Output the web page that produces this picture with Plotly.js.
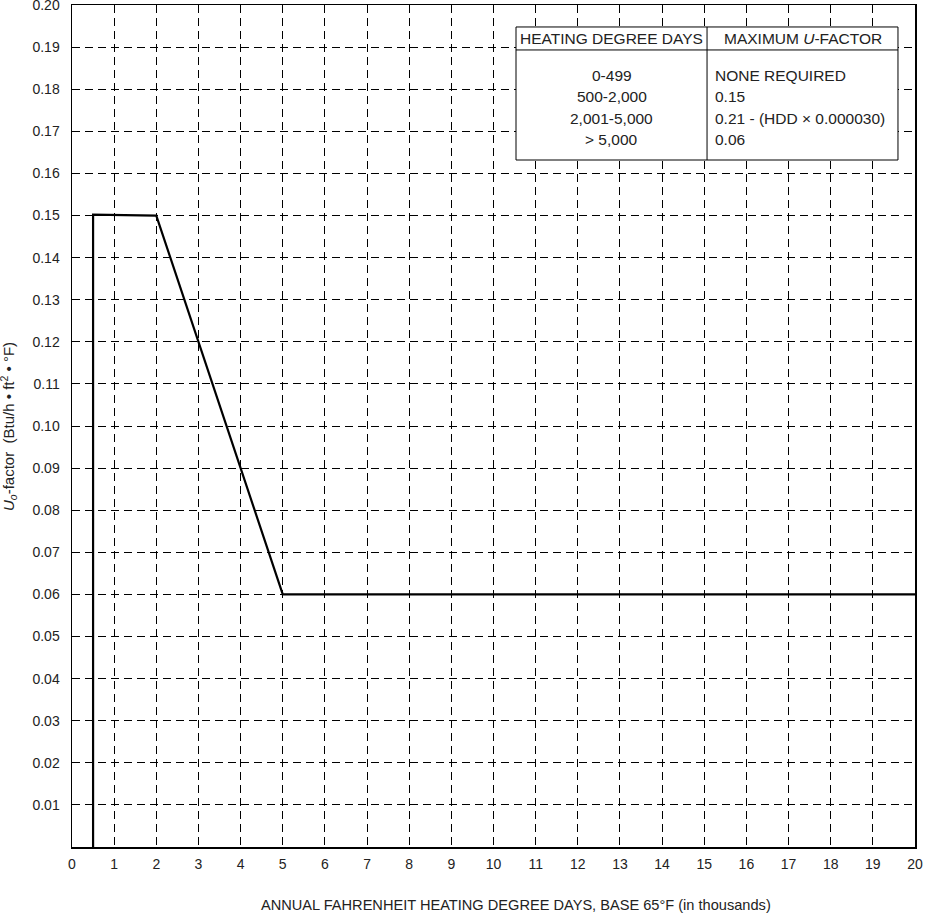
<!DOCTYPE html>
<html>
<head>
<meta charset="utf-8">
<script src="https://cdn.plot.ly/plotly-3.0.1.min.js"></script>
<style>html,body{margin:0;padding:0;background:#fff;}#chart{width:925px;height:914px;}</style>
</head>
<body>
<div id="chart"></div>
<script>
// Curve vertices (HDD in thousands, maximum U-factor)
const hddThousands = [0.5, 0.5, 2, 5, 20];
const uFactor = [0, 0.1502, 0.15, 0.06, 0.06];

// Axis ticks
const xTicks = [0,1,2,3,4,5,6,7,8,9,10,11,12,13,14,15,16,17,18,19,20];
const yTicks = [0.01,0.02,0.03,0.04,0.05,0.06,0.07,0.08,0.09,0.10,0.11,0.12,0.13,0.14,0.15,0.16,0.17,0.18,0.19,0.20];
const yTickText = yTicks.map(v => v.toFixed(2));

// Axis titles
const xTitle = 'ANNUAL FAHRENHEIT HEATING DEGREE DAYS, BASE 65°F (in thousands)';
const yTitle = '<i>U</i><sub><i>o</i></sub>-factor  (Btu/h • ft<sup>2</sup> • °F)';

// Table content
const tableHeaders = ["HEATING DEGREE DAYS", "MAXIMUM <i>U</i>-FACTOR"];
const hddRanges = ["0-499", "500-2,000", "2,001-5,000", "&gt; 5,000"];
const maxU = ["NONE REQUIRED", "0.15", "0.21 - (HDD × 0.000030)", "0.06"];

const FONT = "Liberation Sans, Arial, Helvetica, sans-serif";

// Table geometry (paper coordinates)
const tL = 0.5267, tR = 0.9798, tT = 0.9739, tB = 0.8159, tH = 0.9466, tC = 0.7533;
const rowY0 = 0.9131 + 3/842, rowStep = 21.5 / 842;

const shapes = [
  {type:'rect', xref:'paper', yref:'paper', x0:tL, x1:tR, y0:tB, y1:tT, fillcolor:'#fff', line:{color:'#000', width:1}, layer:'above'},
  {type:'line', xref:'paper', yref:'paper', x0:tL, x1:tR, y0:tH, y1:tH, line:{color:'#000', width:1}},
  {type:'line', xref:'paper', yref:'paper', x0:tC, x1:tC, y0:tB, y1:tT, line:{color:'#000', width:1}}
];

const annotations = [];
annotations.push({xref:'paper', yref:'paper', x:(tL+tC)/2, y:(tT+tH)/2, text:tableHeaders[0], showarrow:false, xanchor:'center', yanchor:'middle', font:{family:FONT, size:15.5, color:'#222'}});
annotations.push({xref:'paper', yref:'paper', x:(tC+tR)/2, y:(tT+tH)/2, text:tableHeaders[1], showarrow:false, xanchor:'center', yanchor:'middle', font:{family:FONT, size:15.5, color:'#222'}});
hddRanges.forEach((t, i) => {
  annotations.push({xref:'paper', yref:'paper', x:(tL+tC)/2, y:rowY0 - i*rowStep, text:t, showarrow:false, xanchor:'center', yanchor:'middle', font:{family:FONT, size:15.5, color:'#222'}});
});
maxU.forEach((t, i) => {
  annotations.push({xref:'paper', yref:'paper', x:tC + 6/843, y:rowY0 - i*rowStep, text:t, showarrow:false, xanchor:'left', yanchor:'middle', font:{family:FONT, size:15.5, color:'#222'}});
});
// Axis titles as annotations (positioned like the reference)
annotations.push({xref:'paper', yref:'paper', x:(516-72)/843, y:-(905-847)/842, text:xTitle, showarrow:false, xanchor:'center', yanchor:'middle', font:{family:FONT, size:14.6, color:'#222'}});
annotations.push({xref:'paper', yref:'paper', x:(8-72)/843, y:1-(427-5)/842, text:yTitle, textangle:-90, showarrow:false, xanchor:'center', yanchor:'middle', font:{family:FONT, size:15, color:'#222'}});

const trace = {
  x: hddThousands, y: uFactor, type:'scatter', mode:'lines',
  line:{color:'#000', width:2.2}, hoverinfo:'skip'
};

const layout = {
  width:925, height:914,
  margin:{l:72, r:10, t:5, b:67},
  paper_bgcolor:'#fff', plot_bgcolor:'#fff',
  font:{family:FONT, size:14, color:'#222'},
  showlegend:false,
  xaxis:{
    range:[0,20], tickvals:xTicks, ticktext:xTicks.map(String),
    showgrid:true, gridcolor:'#000', gridwidth:1, griddash:'8px,5px',
    zeroline:false, showline:true, linecolor:'#000', linewidth:1.5, mirror:true,
    ticks:'', ticklabelstandoff:4, ticklabeloverflow:'allow',
    tickfont:{family:FONT, size:14, color:'#222'},
    automargin:false
  },
  yaxis:{
    range:[0,0.20001], tickvals:yTicks, ticktext:yTickText,
    showgrid:true, gridcolor:'#000', gridwidth:1, griddash:'8px,5px',
    zeroline:false, showline:true, linecolor:'#000', linewidth:1.5, mirror:true,
    ticks:'', ticklabelstandoff:8, ticklabeloverflow:'allow',
    tickfont:{family:FONT, size:14, color:'#222'},
    automargin:false
  },
  shapes: shapes,
  annotations: annotations
};

Plotly.newPlot('chart', [trace], layout, {staticPlot:true, displayModeBar:false});
</script>
</body>
</html>
